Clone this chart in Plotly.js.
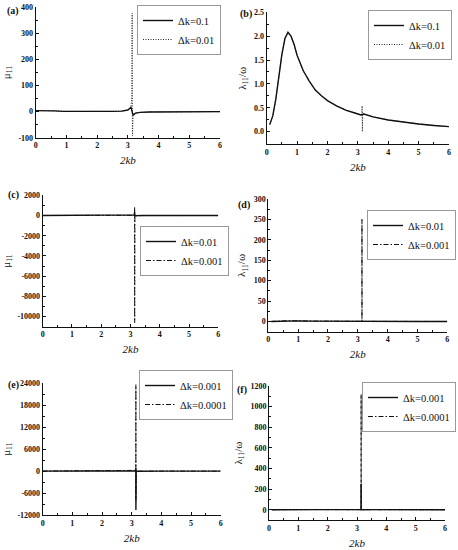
<!DOCTYPE html>
<html>
<head>
<meta charset="utf-8">
<script src="https://cdn.plot.ly/plotly-3.0.1.min.js"></script>
<style>
  html, body { margin: 0; padding: 0; background: #fff; }
  #chart { width: 458px; height: 550px; }
</style>
</head>
<body>
<div id="chart"></div>
<script>
// ─── Data ─────────────────────────────────────────────────────────
// (a) mu11, dk = 0.1 (solid) and dk = 0.01 (dotted)
const aSolidX = [0, 0.3, 0.6, 0.9, 1.2, 1.5, 2.0, 2.5, 2.8, 3.0, 3.1, 3.17, 3.25, 3.4, 3.7, 4.0, 4.5, 5.0, 5.5, 6.0];
const aSolidY = [4, 4, 3, 1, 0.5, 0.3, 0.5, 1, 2, 6, 17, -13, -6, -3, -1.5, -1, -0.5, 0, 0, 0];
const aDotX = [0, 0.3, 0.6, 0.9, 1.2, 1.5, 2.0, 2.5, 2.8, 3.0, 3.1, 3.13, 3.14, 3.15, 3.17, 3.25, 3.4, 3.7, 4.0, 4.5, 5.0, 5.5, 6.0];
const aDotY = [4, 4, 3, 1, 0.5, 0.3, 0.5, 1, 2, 6, 17, 60, 377, -93, -13, -6, -3, -1.5, -1, -0.5, 0, 0, 0];

// (b) lambda11/omega, dk = 0.1 (solid) and dk = 0.01 (dotted)
const bSolidX = [0.1, 0.2, 0.3, 0.4, 0.5, 0.6, 0.7, 0.8, 0.9, 1.0, 1.2, 1.4, 1.6, 1.8, 2.0, 2.3, 2.6, 2.9, 3.1, 3.2, 3.5, 4.0, 4.5, 5.0, 5.5, 6.0];
const bSolidY = [0.15, 0.33, 0.68, 1.15, 1.62, 1.95, 2.08, 2.0, 1.83, 1.6, 1.28, 1.06, 0.87, 0.75, 0.65, 0.54, 0.45, 0.39, 0.35, 0.37, 0.31, 0.245, 0.2, 0.16, 0.13, 0.105];
const bDotX = [0.1, 0.2, 0.3, 0.4, 0.5, 0.6, 0.7, 0.8, 0.9, 1.0, 1.2, 1.4, 1.6, 1.8, 2.0, 2.3, 2.6, 2.9, 3.1, 3.13, 3.14, 3.15, 3.16, 3.2, 3.5, 4.0, 4.5, 5.0, 5.5, 6.0];
const bDotY = [0.15, 0.33, 0.68, 1.15, 1.62, 1.95, 2.08, 2.0, 1.83, 1.6, 1.28, 1.06, 0.87, 0.75, 0.65, 0.54, 0.45, 0.39, 0.35, 0.35, 0.54, 0.0, 0.37, 0.37, 0.31, 0.245, 0.2, 0.16, 0.13, 0.105];

// (c) mu11, dk = 0.01 (solid) and dk = 0.001 (dash-dot)
const cSolidX = [0, 0.6, 1.2, 2.0, 3.0, 3.1, 3.13, 3.14, 3.15, 3.17, 3.4, 4, 5, 6];
const cSolidY = [4, 3, 0.5, 0.5, 6, 17, 60, 377, -93, -13, -3, -1, 0, 0];
const cDashX = [0, 0.6, 1.2, 2.0, 3.0, 3.1, 3.14, 3.141, 3.142, 3.15, 3.4, 4, 5, 6];
const cDashY = [4, 3, 0.5, 0.5, 6, 17, 100, 800, -10600, -50, -3, -1, 0, 0];

// (d) lambda11/omega, dk = 0.01 (solid) and dk = 0.001 (dash-dot)
const dSolidX = [0.1, 0.4, 0.7, 1.0, 1.5, 2.0, 2.5, 3.0, 3.14, 3.15, 3.5, 4, 5, 6];
const dSolidY = [0.15, 1.15, 2.08, 1.6, 0.97, 0.65, 0.48, 0.37, 0.54, 0, 0.31, 0.245, 0.16, 0.105];
const dDashX = [0.1, 0.7, 1.5, 2.5, 3.0, 3.139, 3.14, 3.141, 3.5, 4, 5, 6];
const dDashY = [0.15, 2.08, 0.97, 0.48, 0.37, 0.4, 250, 0, 0.31, 0.245, 0.16, 0.105];

// (e) mu11, dk = 0.001 (solid) and dk = 0.0001 (dash-dot)
const eSolidX = [0, 0.6, 1.2, 2.0, 3.0, 3.14, 3.141, 3.142, 3.15, 4, 5, 6];
const eSolidY = [4, 3, 0.5, 0.5, 6, 100, 800, -10600, -50, -1, 0, 0];
const eDashX = [0, 0.6, 1.2, 2.0, 3.0, 3.14, 3.1411, 3.1412, 3.15, 4, 5, 6];
const eDashY = [4, 3, 0.5, 0.5, 6, 200, 23600, -8000, -50, -1, 0, 0];

// (f) lambda11/omega, dk = 0.001 (solid) and dk = 0.0001 (dash-dot)
const fSolidX = [0.1, 0.7, 1.5, 2.5, 3.0, 3.139, 3.14, 3.141, 3.5, 4, 5, 6];
const fSolidY = [0.15, 2.08, 0.97, 0.48, 0.37, 0.4, 250, 0, 0.31, 0.245, 0.16, 0.105];
const fDashX = [0.1, 0.7, 1.5, 2.5, 3.0, 3.1409, 3.141, 3.1411, 3.5, 4, 5, 6];
const fDashY = [0.15, 2.08, 0.97, 0.48, 0.37, 0.4, 1120, 0, 0.31, 0.245, 0.16, 0.105];

// legend labels
const namesA = ['Δk=0.1', 'Δk=0.01'];
const namesC = ['Δk=0.01', 'Δk=0.001'];
const namesE = ['Δk=0.001', 'Δk=0.0001'];

// tick labels
const xTicks = [0, 1, 2, 3, 4, 5, 6];
const xTickText = ['0', '1', '2', '3', '4', '5', '6'];
const aYTicks = [-100, 0, 100, 200, 300, 400];
const aYText = ['-100', '0', '100', '200', '300', '400'];
const bYTicks = [0, 0.5, 1, 1.5, 2, 2.5];
const bYText = ['0.0', '0.5', '1.0', '1.5', '2.0', '2.5'];
const cYTicks = [-10000, -8000, -6000, -4000, -2000, 0, 2000];
const cYText = ['-10000', '-8000', '-6000', '-4000', '-2000', '0', '2000'];
const dYTicks = [0, 50, 100, 150, 200, 250, 300];
const dYText = ['0', '50', '100', '150', '200', '250', '300'];
const eYTicks = [-12000, -6000, 0, 6000, 12000, 18000, 24000];
const eYText = ['-12000', '-6000', '0', '6000', '12000', '18000', '24000'];
const fYTicks = [0, 200, 400, 600, 800, 1000, 1200];
const fYText = ['0', '200', '400', '600', '800', '1000', '1200'];

// ─── Styling ──────────────────────────────────────────────────────
const W = 458, H = 550;
const INK = '#111';
const SERIF = 'Liberation Serif';
const DOT = '1px,1.5px';
const DASHDOT = '5px,2px,1.5px,2px';

// pixel box -> paper fractions
const px = v => v / W;
const py = v => 1 - v / H;

function line(x, y, dash, width, name, ax, legend) {
    return {
        x: x, y: y, type: 'scatter', mode: 'lines', name: name,
        xaxis: 'x' + ax, yaxis: 'y' + ax, legend: legend,
        line: { color: INK, width: width, dash: dash }
    };
}

function xAxis(i, left, right) {
    return {
        domain: [px(left), px(right)],
        anchor: 'y' + i,
        range: [0, 6],
        tickvals: xTicks, ticktext: xTickText,
        ticks: 'inside', ticklen: 3, tickcolor: INK,
        minor: { ticks: 'inside', ticklen: 2, dtick: 0.5, tickcolor: INK },
        showline: true, linecolor: INK, linewidth: 1,
        showgrid: false, zeroline: false,
        tickfont: { family: SERIF, size: 8, color: INK, weight: 'bold' },
        title: { text: '2kb', standoff: 7, font: { family: SERIF, size: 11, color: INK, style: 'italic' } }
    };
}

function yAxis(i, top, bottom, range, vals, text, minorStep, title) {
    return {
        domain: [py(bottom), py(top)],
        anchor: 'x' + i,
        range: range,
        tickvals: vals, ticktext: text,
        ticks: 'inside', ticklen: 3, tickcolor: INK,
        minor: { ticks: 'inside', ticklen: 2, dtick: minorStep, tickcolor: INK },
        showline: true, linecolor: INK, linewidth: 1,
        showgrid: false, zeroline: false,
        tickfont: { family: SERIF, size: 8, color: INK, weight: 'bold' },
        title: { text: title, standoff: 5, font: { family: SERIF, size: 11, color: INK } }
    };
}

function legendBox(x, yt, anchor) {
    return {
        x: px(x), y: py(yt), xanchor: anchor, yanchor: 'top',
        bgcolor: 'rgba(255,255,255,0)', bordercolor: '#999', borderwidth: 1,
        font: { family: SERIF, size: 10.5, color: INK },
        tracegroupgap: 0, itemwidth: 30
    };
}

function panelLabel(text, x, y) {
    return {
        text: text, xref: 'paper', yref: 'paper', x: px(x), y: py(y),
        xanchor: 'center', yanchor: 'middle', showarrow: false,
        font: { family: SERIF, size: 10, color: INK, weight: 'bold' }
    };
}

const MU = 'μ<sub>11</sub>';
const LAM = 'λ<sub>11</sub>/ω';

const traces = [
    line(aSolidX, aSolidY, 'solid', 1.4, namesA[0], 1, 'legend'),
    line(aDotX, aDotY, DOT, 0.9, namesA[1], 1, 'legend'),
    line(bSolidX, bSolidY, 'solid', 1.4, namesA[0], 2, 'legend2'),
    line(bDotX, bDotY, DOT, 0.9, namesA[1], 2, 'legend2'),
    line(cSolidX, cSolidY, 'solid', 1.4, namesC[0], 3, 'legend3'),
    line(cDashX, cDashY, DASHDOT, 1, namesC[1], 3, 'legend3'),
    line(dSolidX, dSolidY, 'solid', 1.4, namesC[0], 4, 'legend4'),
    line(dDashX, dDashY, DASHDOT, 1, namesC[1], 4, 'legend4'),
    line(eSolidX, eSolidY, 'solid', 1.4, namesE[0], 5, 'legend5'),
    line(eDashX, eDashY, DASHDOT, 1, namesE[1], 5, 'legend5'),
    line(fSolidX, fSolidY, 'solid', 1.4, namesE[0], 6, 'legend6'),
    line(fDashX, fDashY, DASHDOT, 1, namesE[1], 6, 'legend6')
];

const layout = {
    width: W, height: H,
    margin: { l: 0, r: 0, t: 0, b: 0 },
    paper_bgcolor: '#fff', plot_bgcolor: '#fff',
    font: { family: SERIF, color: INK },
    showlegend: true,

    xaxis: xAxis(1, 35.7, 220),
    yaxis: yAxis(1, 7.3, 137.7, [-100, 400], aYTicks, aYText, 50, MU),
    xaxis2: xAxis(2, 266.7, 449),
    yaxis2: yAxis(2, 12.3, 144.3, [-0.265, 2.5], bYTicks, bYText, 0.25, LAM),
    xaxis3: xAxis(3, 42.7, 218.3),
    yaxis3: yAxis(3, 195.3, 326.7, [-11000, 2000], cYTicks, cYText, 1000, MU),
    xaxis4: xAxis(4, 268.3, 447.3),
    yaxis4: yAxis(4, 199, 331.7, [-25, 300], dYTicks, dYText, 25, LAM),
    xaxis5: xAxis(5, 42.7, 220.7),
    yaxis5: yAxis(5, 383.3, 515, [-12000, 24000], eYTicks, eYText, 3000, MU),
    xaxis6: xAxis(6, 269, 445),
    yaxis6: yAxis(6, 386, 520, [-100, 1200], fYTicks, fYText, 100, LAM),

    legend: legendBox(137, 5, 'left'),
    legend2: legendBox(452, 10, 'right'),
    legend3: legendBox(140, 226, 'left'),
    legend4: legendBox(456, 210, 'right'),
    legend5: legendBox(139, 370, 'left'),
    legend6: legendBox(456, 382, 'right'),

    annotations: [
        panelLabel('(a)', 13, 11),
        panelLabel('(b)', 245.7, 14),
        panelLabel('(c)', 13, 195),
        panelLabel('(d)', 244, 205),
        panelLabel('(e)', 13, 385),
        panelLabel('(f)', 242.3, 390)
    ]
};

Plotly.newPlot('chart', traces, layout, { displayModeBar: false, staticPlot: true });
</script>
</body>
</html>
